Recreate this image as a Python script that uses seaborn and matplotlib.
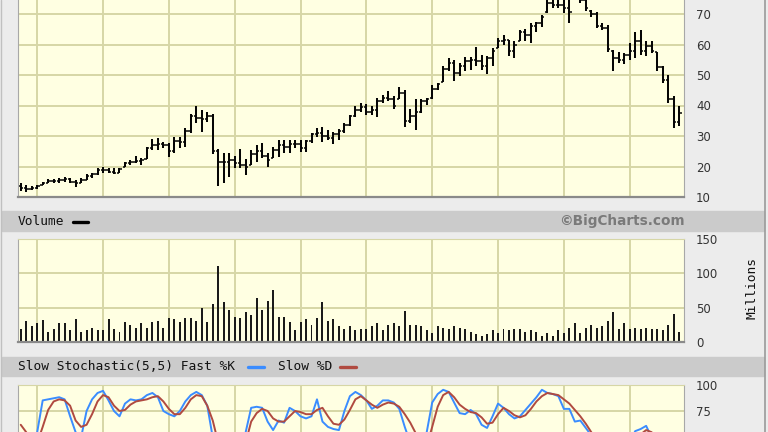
import matplotlib
matplotlib.use("Agg")
import matplotlib.pyplot as plt
import seaborn as sns
import pandas as pd
from matplotlib.patches import Rectangle
from matplotlib.lines import Line2D

sns.set_style("white")
plt.rcParams["font.family"] = ["DejaVu Sans"]

# weekly price bars
highs = [14.7, 13.9, 13.6, 13.9, 15.0, 15.8, 15.8, 16.3, 16.4, 16.1,
         15.6, 16.1, 17.5, 18.0, 19.4, 19.9, 19.4, 19.4, 19.4, 21.6,
         22.1, 23.4, 22.7, 26.5, 28.9, 29.2, 28.1, 27.6, 29.6, 29.8,
         32.5, 37.2, 39.8, 38.5, 38.0, 37.2, 25.6, 24.3, 24.3, 23.4,
         25.6, 22.3, 25.4, 27.0, 27.8, 24.3, 26.5, 28.7, 28.7, 28.7,
         28.7, 28.7, 28.7, 30.9, 32.5, 33.1, 32.0, 31.4, 32.2, 34.4,
         36.9, 39.8, 40.8, 40.5, 39.8, 42.4, 43.6, 44.7, 43.0, 46.1,
         45.2, 38.7, 42.0, 42.2, 42.5, 46.8, 47.4, 53.0, 55.5, 55.0,
         53.9, 55.9, 55.9, 59.3, 56.6, 56.1, 58.8, 62.1, 63.2, 61.5,
         61.0, 64.8, 65.0, 67.0, 67.5, 69.7, 75.5, 76.5, 76.0, 75.5,
         75.0, 78.0, 77.0, 75.5, 71.3, 70.7, 67.0, 66.4, 58.3, 57.7,
         57.2, 60.4, 64.2, 64.8, 61.0, 61.0, 57.7, 52.8, 50.1, 43.0,
         39.8]
lows = [12.1, 11.7, 12.3, 12.5, 13.9, 14.5, 14.7, 14.7, 15.0, 14.7,
        13.4, 14.5, 15.6, 16.1, 17.2, 18.0, 17.8, 17.5, 17.8, 19.9,
        20.5, 21.0, 20.5, 22.3, 25.4, 25.4, 26.0, 23.0, 24.3, 26.0,
        26.5, 31.1, 34.4, 31.4, 34.7, 24.1, 13.6, 14.7, 16.7, 19.4,
        19.4, 17.2, 20.5, 21.6, 22.7, 19.9, 22.7, 23.2, 24.5, 24.3,
        26.0, 24.9, 24.9, 27.6, 29.8, 28.1, 28.7, 27.4, 28.7, 31.1,
        33.3, 36.1, 37.8, 37.0, 37.0, 36.3, 40.9, 41.4, 38.7, 42.0,
        33.0, 34.3, 32.0, 37.6, 40.3, 42.2, 45.2, 47.6, 51.2, 47.9,
        49.6, 51.2, 51.7, 52.8, 51.7, 50.4, 52.8, 58.8, 59.9, 56.1,
        55.5, 61.0, 61.0, 60.4, 64.2, 65.9, 70.2, 72.0, 72.0, 70.2,
        67.0, 75.5, 73.5, 71.0, 69.1, 65.3, 64.8, 57.7, 51.2, 53.9,
        53.7, 55.0, 55.5, 56.6, 56.1, 57.2, 51.2, 47.4, 40.9, 32.7,
        33.2]
opens = [13.5, 13.0, 12.5, 12.8, 14.0, 14.5, 15.2, 15.3, 15.5, 15.8,
         15.0, 14.6, 15.6, 17.0, 17.5, 18.8, 19.0, 18.2, 18.0, 20.0,
         21.0, 21.5, 21.8, 22.5, 26.0, 27.0, 27.5, 27.0, 25.0, 28.5,
         28.0, 31.5, 36.5, 36.0, 35.5, 36.5, 25.0, 21.5, 21.5, 22.0,
         21.0, 20.5, 20.5, 24.0, 25.0, 23.5, 22.8, 25.5, 27.0, 26.5,
         27.5, 27.5, 26.0, 28.5, 30.5, 31.0, 30.0, 29.5, 30.5, 31.5,
         33.5, 36.5, 38.5, 39.5, 38.0, 38.5, 41.5, 42.5, 42.0, 42.0,
         44.0, 35.0, 36.5, 38.0, 41.5, 42.5, 45.5, 47.8, 52.0, 54.0,
         50.5, 53.0, 54.5, 55.0, 54.5, 53.0, 55.5, 59.0, 61.0, 61.5,
         58.0, 61.0, 64.0, 63.0, 66.0, 67.0, 70.5, 73.5, 73.0, 73.0,
         72.0, 76.0, 76.0, 74.5, 71.0, 70.0, 66.0, 65.5, 58.0, 55.5,
         55.0, 56.5, 58.0, 61.0, 58.0, 59.5, 57.5, 52.5, 48.5, 42.0,
         34.5]
closes = [13.0, 12.5, 12.8, 13.5, 14.5, 15.2, 15.3, 15.5, 15.8, 15.0,
          14.5, 15.5, 17.0, 17.5, 18.8, 19.0, 18.2, 18.0, 19.2, 21.0,
          21.5, 21.8, 22.0, 26.0, 27.0, 27.5, 27.0, 25.0, 28.5, 28.0,
          31.5, 36.5, 36.0, 35.5, 36.5, 25.0, 21.5, 21.5, 22.0, 21.0,
          20.5, 20.0, 24.0, 25.0, 23.5, 22.0, 25.5, 27.0, 26.5, 27.5,
          27.5, 26.0, 28.5, 30.5, 31.0, 30.0, 29.5, 30.5, 31.5, 33.5,
          36.5, 38.5, 39.5, 38.0, 38.5, 41.5, 42.5, 42.0, 40.0, 44.0,
          35.0, 36.5, 38.0, 41.5, 42.0, 45.5, 47.0, 52.0, 54.0, 50.5,
          53.0, 54.5, 55.0, 54.5, 53.0, 55.5, 58.0, 61.0, 61.5, 58.0,
          60.0, 64.0, 63.0, 66.0, 67.0, 69.0, 73.5, 73.0, 73.0, 72.0,
          70.5, 76.0, 74.5, 72.0, 70.0, 66.0, 65.5, 58.5, 55.5, 55.0,
          56.5, 58.0, 61.0, 58.0, 59.5, 58.0, 52.5, 48.5, 42.0, 34.5,
          37.5]

# weekly volume, millions
volume = [19, 30, 23, 27, 32, 15, 19, 27, 27, 17,
          33, 15, 17, 21, 17, 17, 33, 19, 15, 29,
          25, 21, 27, 21, 29, 31, 21, 35, 33, 29,
          35, 35, 31, 49, 29, 56, 111, 58, 47, 37,
          35, 43, 39, 64, 47, 60, 76, 37, 37, 29,
          17, 29, 33, 25, 35, 58, 31, 33, 23, 19,
          23, 17, 19, 19, 23, 27, 17, 25, 27, 23,
          45, 25, 25, 23, 17, 13, 23, 21, 19, 23,
          21, 19, 15, 11, 9, 11, 17, 13, 19, 17,
          19, 19, 15, 17, 15, 9, 13, 9, 17, 13,
          21, 27, 13, 21, 25, 21, 23, 31, 43, 19,
          27, 19, 21, 19, 21, 19, 19, 17, 25, 41,
          15]

# slow stochastic (5,5)
fast_k = [30, 25, 35, 55, 85, 86, 87, 88, 86, 70,
          55, 50, 75, 86, 92, 94, 85, 75, 70, 82,
          86, 85, 86, 90, 92, 88, 75, 72, 70, 75,
          84, 90, 93, 90, 80, 50, 10, 5, 10, 20,
          35, 55, 78, 79, 78, 65, 57, 66, 64, 78,
          75, 70, 68, 70, 86, 65, 60, 58, 57, 75,
          89, 93, 90, 85, 77, 80, 85, 85, 83, 77,
          60, 45, 15, 30, 55, 83, 91, 95, 93, 83,
          73, 72, 76, 72, 62, 59, 70, 82, 78, 72,
          68, 70, 76, 82, 88, 95, 92, 91, 89, 77,
          77, 65, 66, 59, 52, 40, 25, 10, 5, 15,
          25, 45, 56, 58, 61, 50, 30, 15, 8, 5,
          20]
slow_d = [62, 55, 45, 45, 60, 76, 84, 86, 85, 80,
          66, 60, 62, 72, 84, 90, 88, 80, 75, 76,
          81, 84, 85, 86, 88, 89, 84, 77, 72, 72,
          78, 86, 90, 89, 80, 66, 45, 25, 12, 12,
          22, 45, 65, 73, 77, 75, 68, 65, 65, 70,
          75, 74, 72, 72, 76, 78, 70, 63, 62, 67,
          76, 86, 89, 85, 81, 78, 81, 83, 82, 79,
          72, 64, 54, 45, 42, 60, 79, 90, 93, 88,
          81, 77, 74, 73, 69, 63, 64, 72, 78, 75,
          71, 69, 71, 77, 84, 89, 92, 91, 90, 86,
          82, 76, 70, 63, 55, 48, 38, 28, 18, 14,
          20, 32, 45, 53, 57, 55, 45, 32, 18, 12,
          12]

price_ticks = [10, 20, 30, 40, 50, 60, 70, 80]
price_labels = ["10", "20", "30", "40", "50", "60", "70", ""]
volume_ticks = [0, 50, 100, 150]
volume_labels = ["0", "50", "100", "150"]
stoch_ticks = [0, 25, 50, 75, 100]
stoch_labels = ["", "", "", "75", "100"]
grid_weeks = [3, 15, 27, 39, 51, 63, 75, 87, 99, 111]

bars = pd.DataFrame({"high": highs, "low": lows, "open": opens,
                     "close": closes, "volume": volume,
                     "fast_k": fast_k, "slow_d": slow_d})
bars["week"] = range(len(bars))

BG = "#ececec"
PLOT_BG = "#ffffe2"
GRID = "#d6d6a6"
BAND = "#cbcbcb"
BAR = "#050505"
W, H = 768, 432

fig = plt.figure(figsize=(7.68, 4.32), dpi=100, facecolor=BG)


def px_axes(left, top, right, bottom):
    return fig.add_axes([left / W, 1 - bottom / H, (right - left) / W, (bottom - top) / H])


def style_panel(ax, yticks, ylabels, ylim):
    ax.set_facecolor(PLOT_BG)
    ax.set_xlim(-0.5, 120.9)
    ax.set_ylim(*ylim)
    ax.set_xticks(grid_weeks)
    ax.set_yticks(yticks, ylabels)
    ax.grid(True, color=GRID, lw=1.4)
    ax.set_axisbelow(True)
    ax.yaxis.tick_right()
    ax.tick_params(axis="x", length=0, labelbottom=False)
    ax.tick_params(axis="y", length=0, pad=8.6, labelsize=8.5, labelcolor="#333333")
    ax.set_xlabel("")
    ax.set_ylabel("")
    ax.spines["bottom"].set_color("#8a8a8a")
    ax.spines["bottom"].set_linewidth(1.6)
    ax.spines["left"].set_color("#a8a8a8")
    ax.spines["right"].set_color("#a8a8a8")
    ax.spines["top"].set_color(GRID)
    for s in ax.spines.values():
        s.set_visible(True)


# header bands
for top, bottom in [(211, 231), (357, 376)]:
    fig.patches.append(Rectangle((2 / W, 1 - bottom / H), 762 / W, (bottom - top) / H,
                                 transform=fig.transFigure, color=BAND, zorder=0))

# price panel
ax_p = px_axes(18, -16.5, 684, 197)
ax_p.vlines(bars["week"], bars["low"], bars["high"], color=BAR, lw=1.45)
ax_p.hlines(bars["open"], bars["week"] - 0.45, bars["week"], color=BAR, lw=1.1)
ax_p.hlines(bars["close"], bars["week"], bars["week"] + 0.45, color=BAR, lw=1.1)
style_panel(ax_p, price_ticks, price_labels, (10, 80))

# volume panel
ax_v = px_axes(18, 239, 684, 342)
sns.barplot(data=bars, x="week", y="volume", native_scale=True, width=0.36,
            color="#1a1a1a", saturation=1, linewidth=0, errorbar=None, ax=ax_v)
style_panel(ax_v, volume_ticks, volume_labels, (0, 150))

# stochastic panel
ax_s = px_axes(18, 384.5, 684, 490.5)
sns.lineplot(data=bars, x="week", y="fast_k", color="#3a8cff", lw=1.4, ax=ax_s)
sns.lineplot(data=bars, x="week", y="slow_d", color="#b04a40", lw=1.4, ax=ax_s)
style_panel(ax_s, stoch_ticks, stoch_labels, (0, 100))

# header texts and legend swatches
mono = "DejaVu Sans Mono"
fig.text(18 / W, 1 - 221.5 / H, "Volume", family=mono, size=9.3, va="center", color="#111111")
fig.text(685 / W, 1 - 221.5 / H, "\u00a9BigCharts.com", size=9.8, weight="bold",
         va="center", ha="right", color="#7a7a7a")
fig.text(18 / W, 1 - 367 / H, "Slow Stochastic(5,5) Fast %K", family=mono, size=9.3,
         va="center", color="#111111")
fig.text(278 / W, 1 - 367 / H, "Slow %D", family=mono, size=9.3, va="center", color="#111111")
for x0, x1, y, c in [(73, 88, 221.5, "#000000"), (248, 264, 367, "#3a8cff"),
                     (340, 356, 367, "#b04a40")]:
    fig.add_artist(Line2D([x0 / W, x1 / W], [1 - y / H] * 2, color=c, lw=2.4,
                          transform=fig.transFigure))

fig.text(752 / W, 1 - 288 / H, "Millions", family=mono, size=9.3, rotation=90,
         va="center", ha="center", color="#111111")

# outer frame
fig.add_artist(Line2D([764.5 / W] * 2, [0, 1], color="#9a9a9a", lw=1.2, transform=fig.transFigure))
fig.add_artist(Line2D([1 / W] * 2, [0, 1], color="#c0c0c0", lw=1.0, transform=fig.transFigure))

fig.savefig("out.png", dpi=100, facecolor=BG)
